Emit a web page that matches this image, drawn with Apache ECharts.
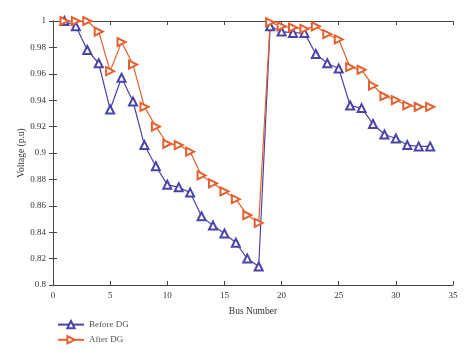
<!DOCTYPE html>
<html><head><meta charset="utf-8">
<script src="https://cdn.jsdelivr.net/npm/echarts@6/dist/echarts.min.js"></script>
<style>html,body{margin:0;padding:0;background:#fff}#c{width:474px;height:361px}</style>
</head><body><div id="c"></div>
<script>
const buses = [1,2,3,4,5,6,7,8,9,10,11,12,13,14,15,16,17,18,19,20,21,22,23,24,25,26,27,28,29,30,31,32,33];
const beforeDG = [1.0,0.996,0.978,0.968,0.933,0.957,0.939,0.906,0.890,0.876,0.874,0.870,0.852,0.845,0.839,0.832,0.820,0.814,0.996,0.992,0.991,0.991,0.975,0.968,0.964,0.936,0.934,0.922,0.914,0.911,0.906,0.905,0.905];
const afterDG = [1.0,1.0,1.0,0.992,0.962,0.984,0.967,0.935,0.920,0.907,0.906,0.901,0.883,0.877,0.871,0.865,0.853,0.847,0.999,0.996,0.995,0.994,0.996,0.990,0.986,0.965,0.963,0.951,0.943,0.940,0.936,0.935,0.935];
const seriesNames = ['Before DG','After DG'];

const font = 'Liberation Serif';
const axisCommon = {
  axisLine:{show:true,lineStyle:{color:'#444',width:1}},
  axisTick:{show:true,inside:true,length:4,lineStyle:{color:'#444'}},
  splitLine:{show:false},
  axisLabel:{fontFamily:font,fontSize:9,color:'#333'}
};
const chart = echarts.init(document.getElementById('c'));
chart.setOption({
  animation:false,
  grid:{left:53,right:21,top:21,bottom:76,containLabel:false},
  xAxis:[
    Object.assign({},axisCommon,{type:'value',min:0,max:35,interval:5,position:'bottom',
      name:'Bus Number',nameLocation:'middle',nameGap:21,nameMoveOverlap:false,
      nameTextStyle:{fontFamily:font,fontSize:9.5,color:'#333'},
      axisLabel:{fontFamily:font,fontSize:9,color:'#333',margin:6}}),
    Object.assign({},axisCommon,{type:'value',min:0,max:35,interval:5,position:'top',axisLabel:{show:false}})
  ],
  yAxis:[
    Object.assign({},axisCommon,{type:'value',min:0.8,max:1,interval:0.02,position:'left',
      name:'Voltage (p.u)',nameLocation:'middle',nameGap:27,nameRotate:90,nameMoveOverlap:false,
      nameTextStyle:{fontFamily:font,fontSize:9.5,color:'#333'},
      axisLabel:{fontFamily:font,fontSize:9,color:'#333',margin:7}}),
    Object.assign({},axisCommon,{type:'value',min:0.8,max:1,interval:0.02,position:'right',axisLabel:{show:false}})
  ],
  legend:{
    orient:'vertical',left:52,top:315,itemWidth:26,itemHeight:9,itemGap:6,
    textStyle:{fontFamily:font,fontSize:9,color:'#555'},
    data:seriesNames
  },
  series:[
    {name:seriesNames[0],type:'line',data:buses.map((b,i)=>[b,beforeDG[i]]),
      symbol:'emptyTriangle',symbolSize:8,
      lineStyle:{color:'#4a44a8',width:1.2},itemStyle:{color:'#4a44a8',borderWidth:1.2}},
    {name:seriesNames[1],type:'line',data:buses.map((b,i)=>[b,afterDG[i]]),
      symbol:'emptyTriangle',symbolSize:8,symbolRotate:-90,
      lineStyle:{color:'#e4602e',width:1.2},itemStyle:{color:'#e4602e',borderWidth:1.2}}
  ]
});
</script></body></html>
